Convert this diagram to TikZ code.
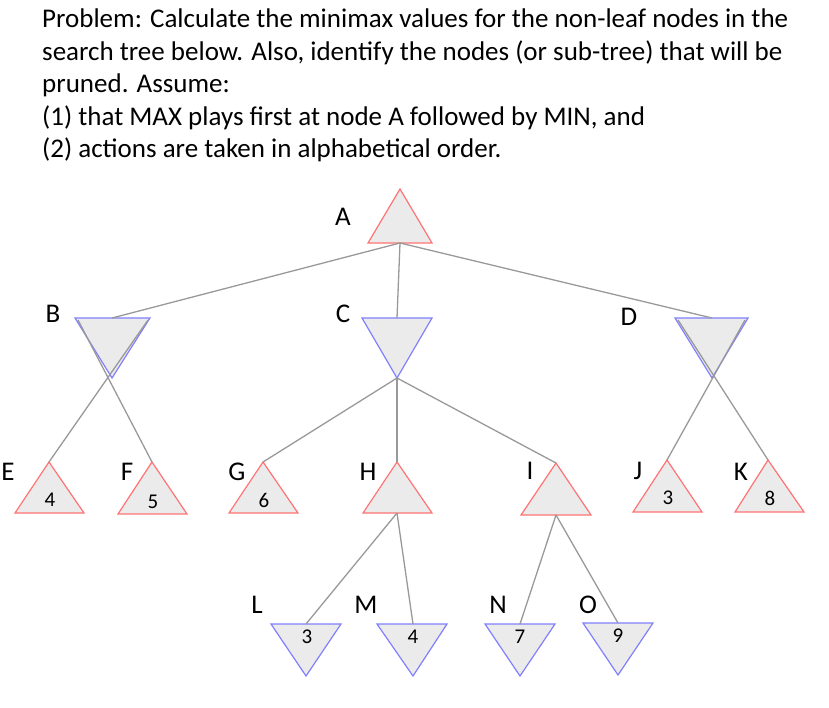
\documentclass[tikz,border=0pt]{standalone}
\usepackage{fontspec}
\setmainfont{Carlito}
\begin{document}
\begin{tikzpicture}[x=1pt,y=-1pt,
  maxt/.style={fill=black!8,draw=red!55,line width=1.2pt},
  mint/.style={fill=black!8,draw=blue!50,line width=1.2pt},
  edge/.style={draw=black!40,line width=1.3pt},
  lab/.style={font=\fontsize{27}{27}\selectfont},
  val/.style={font=\fontsize{21}{21}\selectfont}]
\useasboundingbox (0,0) rectangle (829,707);
\coordinate (Ab) at (400,243);
\coordinate (Bt) at (112,318); \coordinate (Ct) at (397,318); \coordinate (Dt) at (712,318);
\coordinate (Ba) at (112,378); \coordinate (Ca) at (397,378);
\coordinate (Ea) at (49,462); \coordinate (Fa) at (152,462); \coordinate (Ga) at (263,462);
\coordinate (Ha) at (397,462); \coordinate (Ia) at (556,463); \coordinate (Ja) at (667,460); \coordinate (Ka) at (768,460);
\coordinate (Hb) at (397,513); \coordinate (Ib) at (556,515);
\coordinate (Lt) at (306,624); \coordinate (Mt) at (413,624); \coordinate (Nt) at (520,624); \coordinate (Ot) at (618,623);
\coordinate (Bx1) at (148,320); \coordinate (Bx2) at (78,320);
\coordinate (Dx1) at (745,320); \coordinate (Dx2) at (678,320);
\path[maxt] (400,189) -- (432,243) -- (368,243) -- cycle;
\path[mint] (75,318) -- (150,318) -- (Ba) -- cycle;
\path[mint] (362,318) -- (432,318) -- (Ca) -- cycle;
\path[mint] (675,318) -- (748,318) -- (712,378) -- cycle;
\path[maxt] (Ea) -- (84,513) -- (15,513) -- cycle;
\path[maxt] (Fa) -- (187,514) -- (118,514) -- cycle;
\path[maxt] (Ga) -- (298,513) -- (229,513) -- cycle;
\path[maxt] (Ha) -- (432,513) -- (363,513) -- cycle;
\path[maxt] (Ia) -- (591,515) -- (521,515) -- cycle;
\path[maxt] (Ja) -- (702,512) -- (633,512) -- cycle;
\path[maxt] (Ka) -- (804,512) -- (735,512) -- cycle;
\path[mint] (271,624) -- (341,624) -- (306,676) -- cycle;
\path[mint] (377,624) -- (447,624) -- (413,676) -- cycle;
\path[mint] (485,624) -- (555,624) -- (520,676) -- cycle;
\path[mint] (583,623) -- (653,623) -- (618,675) -- cycle;
\draw[edge] (Ab) -- (Bt); \draw[edge] (Ab) -- (Ct); \draw[edge] (Ab) -- (Dt);
\draw[edge] (Ea) -- (Bx1); \draw[edge] (Fa) -- (Bx2);
\draw[edge] (Ca) -- (Ga); \draw[edge] (Ca) -- (Ha); \draw[edge] (Ca) -- (Ia);
\draw[edge] (Ja) -- (Dx1); \draw[edge] (Ka) -- (Dx2);
\draw[edge] (Hb) -- (Lt); \draw[edge] (Hb) -- (Mt);
\draw[edge] (Ib) -- (Nt); \draw[edge] (Ib) -- (Ot);
\node[lab] (lA) at (343,217) {A};
\node[lab] (lB) at (53,314) {B};
\node[lab] (lC) at (343,314) {C};
\node[lab] (lD) at (629,317) {D};
\node[lab] (lE) at (8,472) {E};
\node[lab] (lF) at (127,472) {F};
\node[lab] (lG) at (237,472) {G};
\node[lab] (lH) at (368,472) {H};
\node[lab] (lI) at (530,471) {I};
\node[lab] (lJ) at (638,471) {J};
\node[lab] (lK) at (741,472) {K};
\node[lab] (lL) at (257,605) {L};
\node[lab] (lM) at (366,605) {M};
\node[lab] (lN) at (498,605) {N};
\node[lab] (lO) at (588,605) {O};
\node[val] (vE) at (50,500) {4};
\node[val] (vF) at (153,502) {5};
\node[val] (vG) at (264,500) {6};
\node[val] (vJ) at (668,498) {3};
\node[val] (vK) at (770,498) {8};
\node[val] (vL) at (307,637) {3};
\node[val] (vM) at (413,637) {4};
\node[val] (vN) at (520,637) {7};
\node[val] (vO) at (618,636) {9};
\node[anchor=north west,align=left,font=\fontsize{27}{32.5}\selectfont,inner sep=0pt] (txt) at (42,9)
{Problem: Calculate the minimax values for the non-leaf nodes in the\\
search tree below. Also, identify the nodes (or sub-tree) that will be\\
pruned. Assume:\\
(1)\ that MAX plays first at node A followed by MIN, and\\
(2) actions are taken in alphabetical order.};
\end{tikzpicture}
\end{document}
